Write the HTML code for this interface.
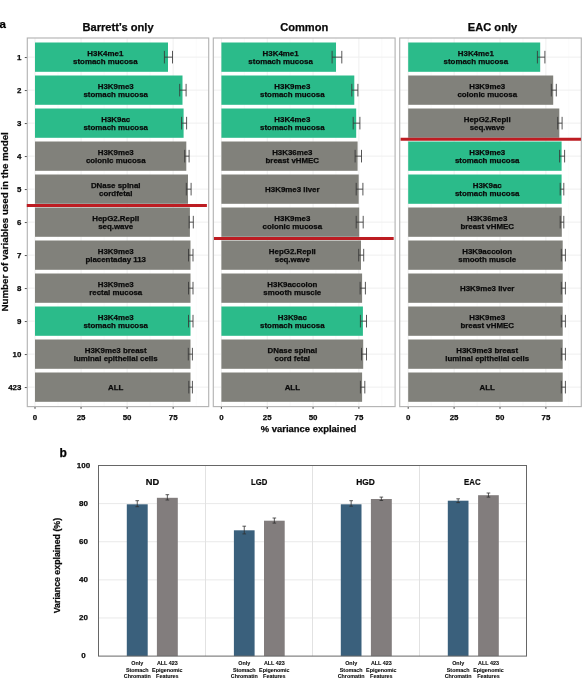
<!DOCTYPE html>
<html><head><meta charset="utf-8"><title>Figure</title>
<style>
html,body{margin:0;padding:0;background:#fff;}
svg{display:block;}
svg text{font-family:"Liberation Sans",Arial,Helvetica,sans-serif;}
</style></head><body>
<svg width="582" height="685" viewBox="0 0 582 685">
<rect x="0" y="0" width="582" height="685" fill="#ffffff"/>
<rect x="27.30" y="38.00" width="181.40" height="368.60" fill="#ffffff" />
<line x1="58.03" y1="38.00" x2="58.03" y2="406.60" stroke="#f6f6f6" stroke-width="0.6" />
<line x1="104.08" y1="38.00" x2="104.08" y2="406.60" stroke="#f6f6f6" stroke-width="0.6" />
<line x1="150.12" y1="38.00" x2="150.12" y2="406.60" stroke="#f6f6f6" stroke-width="0.6" />
<line x1="196.18" y1="38.00" x2="196.18" y2="406.60" stroke="#f6f6f6" stroke-width="0.6" />
<line x1="35.00" y1="38.00" x2="35.00" y2="406.60" stroke="#efefef" stroke-width="1" />
<line x1="81.05" y1="38.00" x2="81.05" y2="406.60" stroke="#efefef" stroke-width="1" />
<line x1="127.10" y1="38.00" x2="127.10" y2="406.60" stroke="#efefef" stroke-width="1" />
<line x1="173.15" y1="38.00" x2="173.15" y2="406.60" stroke="#efefef" stroke-width="1" />
<line x1="27.30" y1="57.15" x2="208.70" y2="57.15" stroke="#efefef" stroke-width="1" />
<line x1="27.30" y1="90.15" x2="208.70" y2="90.15" stroke="#efefef" stroke-width="1" />
<line x1="27.30" y1="123.15" x2="208.70" y2="123.15" stroke="#efefef" stroke-width="1" />
<line x1="27.30" y1="156.15" x2="208.70" y2="156.15" stroke="#efefef" stroke-width="1" />
<line x1="27.30" y1="189.15" x2="208.70" y2="189.15" stroke="#efefef" stroke-width="1" />
<line x1="27.30" y1="222.15" x2="208.70" y2="222.15" stroke="#efefef" stroke-width="1" />
<line x1="27.30" y1="255.15" x2="208.70" y2="255.15" stroke="#efefef" stroke-width="1" />
<line x1="27.30" y1="288.15" x2="208.70" y2="288.15" stroke="#efefef" stroke-width="1" />
<line x1="27.30" y1="321.15" x2="208.70" y2="321.15" stroke="#efefef" stroke-width="1" />
<line x1="27.30" y1="354.15" x2="208.70" y2="354.15" stroke="#efefef" stroke-width="1" />
<line x1="27.30" y1="387.15" x2="208.70" y2="387.15" stroke="#efefef" stroke-width="1" />
<rect x="35.00" y="42.50" width="133.00" height="29.30" fill="#2bbb8a" />
<rect x="35.00" y="75.50" width="147.50" height="29.30" fill="#2bbb8a" />
<rect x="35.00" y="108.50" width="148.60" height="29.30" fill="#2bbb8a" />
<rect x="35.00" y="141.50" width="151.30" height="29.30" fill="#81817b" />
<rect x="35.00" y="174.50" width="153.00" height="29.30" fill="#81817b" />
<rect x="35.00" y="207.50" width="154.90" height="29.30" fill="#81817b" />
<rect x="35.00" y="240.50" width="155.50" height="29.30" fill="#81817b" />
<rect x="35.00" y="273.50" width="155.50" height="29.30" fill="#81817b" />
<rect x="35.00" y="306.50" width="155.50" height="29.30" fill="#2bbb8a" />
<rect x="35.00" y="339.50" width="155.50" height="29.30" fill="#81817b" />
<rect x="35.00" y="372.50" width="155.50" height="29.30" fill="#81817b" />
<line x1="164.40" y1="57.15" x2="172.50" y2="57.15" stroke="#383838" stroke-width="0.85" />
<line x1="164.40" y1="50.85" x2="164.40" y2="63.45" stroke="#383838" stroke-width="0.85" />
<line x1="172.50" y1="50.85" x2="172.50" y2="63.45" stroke="#383838" stroke-width="0.85" />
<line x1="179.70" y1="90.15" x2="186.10" y2="90.15" stroke="#383838" stroke-width="0.85" />
<line x1="179.70" y1="83.85" x2="179.70" y2="96.45" stroke="#383838" stroke-width="0.85" />
<line x1="186.10" y1="83.85" x2="186.10" y2="96.45" stroke="#383838" stroke-width="0.85" />
<line x1="181.60" y1="123.15" x2="186.60" y2="123.15" stroke="#383838" stroke-width="0.85" />
<line x1="181.60" y1="116.85" x2="181.60" y2="129.45" stroke="#383838" stroke-width="0.85" />
<line x1="186.60" y1="116.85" x2="186.60" y2="129.45" stroke="#383838" stroke-width="0.85" />
<line x1="184.70" y1="156.15" x2="189.10" y2="156.15" stroke="#383838" stroke-width="0.85" />
<line x1="184.70" y1="149.85" x2="184.70" y2="162.45" stroke="#383838" stroke-width="0.85" />
<line x1="189.10" y1="149.85" x2="189.10" y2="162.45" stroke="#383838" stroke-width="0.85" />
<line x1="186.30" y1="189.15" x2="191.10" y2="189.15" stroke="#383838" stroke-width="0.85" />
<line x1="186.30" y1="182.85" x2="186.30" y2="195.45" stroke="#383838" stroke-width="0.85" />
<line x1="191.10" y1="182.85" x2="191.10" y2="195.45" stroke="#383838" stroke-width="0.85" />
<line x1="189.10" y1="222.15" x2="193.30" y2="222.15" stroke="#383838" stroke-width="0.85" />
<line x1="189.10" y1="215.85" x2="189.10" y2="228.45" stroke="#383838" stroke-width="0.85" />
<line x1="193.30" y1="215.85" x2="193.30" y2="228.45" stroke="#383838" stroke-width="0.85" />
<line x1="188.50" y1="255.15" x2="193.00" y2="255.15" stroke="#383838" stroke-width="0.85" />
<line x1="188.50" y1="248.85" x2="188.50" y2="261.45" stroke="#383838" stroke-width="0.85" />
<line x1="193.00" y1="248.85" x2="193.00" y2="261.45" stroke="#383838" stroke-width="0.85" />
<line x1="188.50" y1="288.15" x2="193.00" y2="288.15" stroke="#383838" stroke-width="0.85" />
<line x1="188.50" y1="281.85" x2="188.50" y2="294.45" stroke="#383838" stroke-width="0.85" />
<line x1="193.00" y1="281.85" x2="193.00" y2="294.45" stroke="#383838" stroke-width="0.85" />
<line x1="188.50" y1="321.15" x2="193.00" y2="321.15" stroke="#383838" stroke-width="0.85" />
<line x1="188.50" y1="314.85" x2="188.50" y2="327.45" stroke="#383838" stroke-width="0.85" />
<line x1="193.00" y1="314.85" x2="193.00" y2="327.45" stroke="#383838" stroke-width="0.85" />
<line x1="188.30" y1="354.15" x2="192.40" y2="354.15" stroke="#383838" stroke-width="0.85" />
<line x1="188.30" y1="347.85" x2="188.30" y2="360.45" stroke="#383838" stroke-width="0.85" />
<line x1="192.40" y1="347.85" x2="192.40" y2="360.45" stroke="#383838" stroke-width="0.85" />
<line x1="188.80" y1="387.15" x2="192.40" y2="387.15" stroke="#383838" stroke-width="0.85" />
<line x1="188.80" y1="380.85" x2="188.80" y2="393.45" stroke="#383838" stroke-width="0.85" />
<line x1="192.40" y1="380.85" x2="192.40" y2="393.45" stroke="#383838" stroke-width="0.85" />
<text transform="translate(105.30 55.85)" font-size="7.9" text-anchor="middle" fill="#0a0a0a" stroke="#0a0a0a" stroke-width="0.25" font-weight="bold">H3K4me1</text>
<text transform="translate(105.30 64.35)" font-size="7.9" text-anchor="middle" fill="#0a0a0a" stroke="#0a0a0a" stroke-width="0.25" font-weight="bold">stomach mucosa</text>
<text transform="translate(115.70 88.85)" font-size="7.9" text-anchor="middle" fill="#0a0a0a" stroke="#0a0a0a" stroke-width="0.25" font-weight="bold">H3K9me3</text>
<text transform="translate(115.70 97.35)" font-size="7.9" text-anchor="middle" fill="#0a0a0a" stroke="#0a0a0a" stroke-width="0.25" font-weight="bold">stomach mucosa</text>
<text transform="translate(115.70 121.85)" font-size="7.9" text-anchor="middle" fill="#0a0a0a" stroke="#0a0a0a" stroke-width="0.25" font-weight="bold">H3K9ac</text>
<text transform="translate(115.70 130.35)" font-size="7.9" text-anchor="middle" fill="#0a0a0a" stroke="#0a0a0a" stroke-width="0.25" font-weight="bold">stomach mucosa</text>
<text transform="translate(115.70 154.85)" font-size="7.9" text-anchor="middle" fill="#0a0a0a" stroke="#0a0a0a" stroke-width="0.25" font-weight="bold">H3K9me3</text>
<text transform="translate(115.70 163.35)" font-size="7.9" text-anchor="middle" fill="#0a0a0a" stroke="#0a0a0a" stroke-width="0.25" font-weight="bold">colonic mucosa</text>
<text transform="translate(115.70 187.85)" font-size="7.9" text-anchor="middle" fill="#0a0a0a" stroke="#0a0a0a" stroke-width="0.25" font-weight="bold">DNase spinal</text>
<text transform="translate(115.70 196.35)" font-size="7.9" text-anchor="middle" fill="#0a0a0a" stroke="#0a0a0a" stroke-width="0.25" font-weight="bold">cordfetal</text>
<text transform="translate(115.70 220.85)" font-size="7.9" text-anchor="middle" fill="#0a0a0a" stroke="#0a0a0a" stroke-width="0.25" font-weight="bold">HepG2.Repli</text>
<text transform="translate(115.70 229.35)" font-size="7.9" text-anchor="middle" fill="#0a0a0a" stroke="#0a0a0a" stroke-width="0.25" font-weight="bold">seq.wave</text>
<text transform="translate(115.70 253.85)" font-size="7.9" text-anchor="middle" fill="#0a0a0a" stroke="#0a0a0a" stroke-width="0.25" font-weight="bold">H3K9me3</text>
<text transform="translate(115.70 262.35)" font-size="7.9" text-anchor="middle" fill="#0a0a0a" stroke="#0a0a0a" stroke-width="0.25" font-weight="bold">placentaday 113</text>
<text transform="translate(115.70 286.85)" font-size="7.9" text-anchor="middle" fill="#0a0a0a" stroke="#0a0a0a" stroke-width="0.25" font-weight="bold">H3K9me3</text>
<text transform="translate(115.70 295.35)" font-size="7.9" text-anchor="middle" fill="#0a0a0a" stroke="#0a0a0a" stroke-width="0.25" font-weight="bold">rectal mucosa</text>
<text transform="translate(115.70 319.85)" font-size="7.9" text-anchor="middle" fill="#0a0a0a" stroke="#0a0a0a" stroke-width="0.25" font-weight="bold">H3K4me3</text>
<text transform="translate(115.70 328.35)" font-size="7.9" text-anchor="middle" fill="#0a0a0a" stroke="#0a0a0a" stroke-width="0.25" font-weight="bold">stomach mucosa</text>
<text transform="translate(115.70 352.85)" font-size="7.9" text-anchor="middle" fill="#0a0a0a" stroke="#0a0a0a" stroke-width="0.25" font-weight="bold">H3K9me3 breast</text>
<text transform="translate(115.70 361.35)" font-size="7.9" text-anchor="middle" fill="#0a0a0a" stroke="#0a0a0a" stroke-width="0.25" font-weight="bold">luminal epithelial cells</text>
<text transform="translate(115.70 389.65)" font-size="7.9" text-anchor="middle" fill="#0a0a0a" stroke="#0a0a0a" stroke-width="0.25" font-weight="bold">ALL</text>
<rect x="27.30" y="38.00" width="181.40" height="368.60" fill="none" stroke="#b4b4b4" stroke-width="1.15"/>
<line x1="26.80" y1="205.40" x2="206.90" y2="205.40" stroke="#bd1c22" stroke-width="3.0" />
<line x1="35.00" y1="407.00" x2="35.00" y2="408.80" stroke="#484848" stroke-width="1" />
<text transform="translate(35.00 419.90)" font-size="7.9" text-anchor="middle" fill="#0a0a0a" stroke="#0a0a0a" stroke-width="0.25" font-weight="bold">0</text>
<line x1="81.05" y1="407.00" x2="81.05" y2="408.80" stroke="#484848" stroke-width="1" />
<text transform="translate(81.05 419.90)" font-size="7.9" text-anchor="middle" fill="#0a0a0a" stroke="#0a0a0a" stroke-width="0.25" font-weight="bold">25</text>
<line x1="127.10" y1="407.00" x2="127.10" y2="408.80" stroke="#484848" stroke-width="1" />
<text transform="translate(127.10 419.90)" font-size="7.9" text-anchor="middle" fill="#0a0a0a" stroke="#0a0a0a" stroke-width="0.25" font-weight="bold">50</text>
<line x1="173.15" y1="407.00" x2="173.15" y2="408.80" stroke="#484848" stroke-width="1" />
<text transform="translate(173.15 419.90)" font-size="7.9" text-anchor="middle" fill="#0a0a0a" stroke="#0a0a0a" stroke-width="0.25" font-weight="bold">75</text>
<text transform="translate(118.00 30.50)" font-size="11.1" text-anchor="middle" fill="#0a0a0a" stroke="#0a0a0a" stroke-width="0.25" font-weight="bold">Barrett’s only</text>
<rect x="213.30" y="38.00" width="181.80" height="368.60" fill="#ffffff" />
<line x1="244.31" y1="38.00" x2="244.31" y2="406.60" stroke="#f6f6f6" stroke-width="0.6" />
<line x1="290.14" y1="38.00" x2="290.14" y2="406.60" stroke="#f6f6f6" stroke-width="0.6" />
<line x1="335.96" y1="38.00" x2="335.96" y2="406.60" stroke="#f6f6f6" stroke-width="0.6" />
<line x1="381.79" y1="38.00" x2="381.79" y2="406.60" stroke="#f6f6f6" stroke-width="0.6" />
<line x1="221.40" y1="38.00" x2="221.40" y2="406.60" stroke="#efefef" stroke-width="1" />
<line x1="267.23" y1="38.00" x2="267.23" y2="406.60" stroke="#efefef" stroke-width="1" />
<line x1="313.05" y1="38.00" x2="313.05" y2="406.60" stroke="#efefef" stroke-width="1" />
<line x1="358.88" y1="38.00" x2="358.88" y2="406.60" stroke="#efefef" stroke-width="1" />
<line x1="213.30" y1="57.15" x2="395.10" y2="57.15" stroke="#efefef" stroke-width="1" />
<line x1="213.30" y1="90.15" x2="395.10" y2="90.15" stroke="#efefef" stroke-width="1" />
<line x1="213.30" y1="123.15" x2="395.10" y2="123.15" stroke="#efefef" stroke-width="1" />
<line x1="213.30" y1="156.15" x2="395.10" y2="156.15" stroke="#efefef" stroke-width="1" />
<line x1="213.30" y1="189.15" x2="395.10" y2="189.15" stroke="#efefef" stroke-width="1" />
<line x1="213.30" y1="222.15" x2="395.10" y2="222.15" stroke="#efefef" stroke-width="1" />
<line x1="213.30" y1="255.15" x2="395.10" y2="255.15" stroke="#efefef" stroke-width="1" />
<line x1="213.30" y1="288.15" x2="395.10" y2="288.15" stroke="#efefef" stroke-width="1" />
<line x1="213.30" y1="321.15" x2="395.10" y2="321.15" stroke="#efefef" stroke-width="1" />
<line x1="213.30" y1="354.15" x2="395.10" y2="354.15" stroke="#efefef" stroke-width="1" />
<line x1="213.30" y1="387.15" x2="395.10" y2="387.15" stroke="#efefef" stroke-width="1" />
<rect x="221.40" y="42.50" width="114.60" height="29.30" fill="#2bbb8a" />
<rect x="221.40" y="75.50" width="132.90" height="29.30" fill="#2bbb8a" />
<rect x="221.40" y="108.50" width="134.80" height="29.30" fill="#2bbb8a" />
<rect x="221.40" y="141.50" width="136.20" height="29.30" fill="#81817b" />
<rect x="221.40" y="174.50" width="137.30" height="29.30" fill="#81817b" />
<rect x="221.40" y="207.50" width="137.80" height="29.30" fill="#81817b" />
<rect x="221.40" y="240.50" width="139.60" height="29.30" fill="#81817b" />
<rect x="221.40" y="273.50" width="140.70" height="29.30" fill="#81817b" />
<rect x="221.40" y="306.50" width="141.50" height="29.30" fill="#2bbb8a" />
<rect x="221.40" y="339.50" width="141.80" height="29.30" fill="#81817b" />
<rect x="221.40" y="372.50" width="140.70" height="29.30" fill="#81817b" />
<line x1="332.10" y1="57.15" x2="341.80" y2="57.15" stroke="#383838" stroke-width="0.85" />
<line x1="332.10" y1="50.85" x2="332.10" y2="63.45" stroke="#383838" stroke-width="0.85" />
<line x1="341.80" y1="50.85" x2="341.80" y2="63.45" stroke="#383838" stroke-width="0.85" />
<line x1="351.80" y1="90.15" x2="357.90" y2="90.15" stroke="#383838" stroke-width="0.85" />
<line x1="351.80" y1="83.85" x2="351.80" y2="96.45" stroke="#383838" stroke-width="0.85" />
<line x1="357.90" y1="83.85" x2="357.90" y2="96.45" stroke="#383838" stroke-width="0.85" />
<line x1="353.20" y1="123.15" x2="359.90" y2="123.15" stroke="#383838" stroke-width="0.85" />
<line x1="353.20" y1="116.85" x2="353.20" y2="129.45" stroke="#383838" stroke-width="0.85" />
<line x1="359.90" y1="116.85" x2="359.90" y2="129.45" stroke="#383838" stroke-width="0.85" />
<line x1="355.10" y1="156.15" x2="361.50" y2="156.15" stroke="#383838" stroke-width="0.85" />
<line x1="355.10" y1="149.85" x2="355.10" y2="162.45" stroke="#383838" stroke-width="0.85" />
<line x1="361.50" y1="149.85" x2="361.50" y2="162.45" stroke="#383838" stroke-width="0.85" />
<line x1="356.20" y1="189.15" x2="362.90" y2="189.15" stroke="#383838" stroke-width="0.85" />
<line x1="356.20" y1="182.85" x2="356.20" y2="195.45" stroke="#383838" stroke-width="0.85" />
<line x1="362.90" y1="182.85" x2="362.90" y2="195.45" stroke="#383838" stroke-width="0.85" />
<line x1="356.20" y1="222.15" x2="363.20" y2="222.15" stroke="#383838" stroke-width="0.85" />
<line x1="356.20" y1="215.85" x2="356.20" y2="228.45" stroke="#383838" stroke-width="0.85" />
<line x1="363.20" y1="215.85" x2="363.20" y2="228.45" stroke="#383838" stroke-width="0.85" />
<line x1="358.70" y1="255.15" x2="363.70" y2="255.15" stroke="#383838" stroke-width="0.85" />
<line x1="358.70" y1="248.85" x2="358.70" y2="261.45" stroke="#383838" stroke-width="0.85" />
<line x1="363.70" y1="248.85" x2="363.70" y2="261.45" stroke="#383838" stroke-width="0.85" />
<line x1="360.10" y1="288.15" x2="365.40" y2="288.15" stroke="#383838" stroke-width="0.85" />
<line x1="360.10" y1="281.85" x2="360.10" y2="294.45" stroke="#383838" stroke-width="0.85" />
<line x1="365.40" y1="281.85" x2="365.40" y2="294.45" stroke="#383838" stroke-width="0.85" />
<line x1="360.40" y1="321.15" x2="366.50" y2="321.15" stroke="#383838" stroke-width="0.85" />
<line x1="360.40" y1="314.85" x2="360.40" y2="327.45" stroke="#383838" stroke-width="0.85" />
<line x1="366.50" y1="314.85" x2="366.50" y2="327.45" stroke="#383838" stroke-width="0.85" />
<line x1="361.50" y1="354.15" x2="366.50" y2="354.15" stroke="#383838" stroke-width="0.85" />
<line x1="361.50" y1="347.85" x2="361.50" y2="360.45" stroke="#383838" stroke-width="0.85" />
<line x1="366.50" y1="347.85" x2="366.50" y2="360.45" stroke="#383838" stroke-width="0.85" />
<line x1="360.40" y1="387.15" x2="364.80" y2="387.15" stroke="#383838" stroke-width="0.85" />
<line x1="360.40" y1="380.85" x2="360.40" y2="393.45" stroke="#383838" stroke-width="0.85" />
<line x1="364.80" y1="380.85" x2="364.80" y2="393.45" stroke="#383838" stroke-width="0.85" />
<text transform="translate(280.60 55.85)" font-size="7.9" text-anchor="middle" fill="#0a0a0a" stroke="#0a0a0a" stroke-width="0.25" font-weight="bold">H3K4me1</text>
<text transform="translate(280.60 64.35)" font-size="7.9" text-anchor="middle" fill="#0a0a0a" stroke="#0a0a0a" stroke-width="0.25" font-weight="bold">stomach mucosa</text>
<text transform="translate(292.30 88.85)" font-size="7.9" text-anchor="middle" fill="#0a0a0a" stroke="#0a0a0a" stroke-width="0.25" font-weight="bold">H3K9me3</text>
<text transform="translate(292.30 97.35)" font-size="7.9" text-anchor="middle" fill="#0a0a0a" stroke="#0a0a0a" stroke-width="0.25" font-weight="bold">stomach mucosa</text>
<text transform="translate(292.30 121.85)" font-size="7.9" text-anchor="middle" fill="#0a0a0a" stroke="#0a0a0a" stroke-width="0.25" font-weight="bold">H3K4me3</text>
<text transform="translate(292.30 130.35)" font-size="7.9" text-anchor="middle" fill="#0a0a0a" stroke="#0a0a0a" stroke-width="0.25" font-weight="bold">stomach mucosa</text>
<text transform="translate(292.30 154.85)" font-size="7.9" text-anchor="middle" fill="#0a0a0a" stroke="#0a0a0a" stroke-width="0.25" font-weight="bold">H3K36me3</text>
<text transform="translate(292.30 163.35)" font-size="7.9" text-anchor="middle" fill="#0a0a0a" stroke="#0a0a0a" stroke-width="0.25" font-weight="bold">breast vHMEC</text>
<text transform="translate(292.30 191.65)" font-size="7.9" text-anchor="middle" fill="#0a0a0a" stroke="#0a0a0a" stroke-width="0.25" font-weight="bold">H3K9me3 liver</text>
<text transform="translate(292.30 220.85)" font-size="7.9" text-anchor="middle" fill="#0a0a0a" stroke="#0a0a0a" stroke-width="0.25" font-weight="bold">H3K9me3</text>
<text transform="translate(292.30 229.35)" font-size="7.9" text-anchor="middle" fill="#0a0a0a" stroke="#0a0a0a" stroke-width="0.25" font-weight="bold">colonic mucosa</text>
<text transform="translate(292.30 253.85)" font-size="7.9" text-anchor="middle" fill="#0a0a0a" stroke="#0a0a0a" stroke-width="0.25" font-weight="bold">HepG2.Repli</text>
<text transform="translate(292.30 262.35)" font-size="7.9" text-anchor="middle" fill="#0a0a0a" stroke="#0a0a0a" stroke-width="0.25" font-weight="bold">seq.wave</text>
<text transform="translate(292.30 286.85)" font-size="7.9" text-anchor="middle" fill="#0a0a0a" stroke="#0a0a0a" stroke-width="0.25" font-weight="bold">H3K9accolon</text>
<text transform="translate(292.30 295.35)" font-size="7.9" text-anchor="middle" fill="#0a0a0a" stroke="#0a0a0a" stroke-width="0.25" font-weight="bold">smooth muscle</text>
<text transform="translate(292.30 319.85)" font-size="7.9" text-anchor="middle" fill="#0a0a0a" stroke="#0a0a0a" stroke-width="0.25" font-weight="bold">H3K9ac</text>
<text transform="translate(292.30 328.35)" font-size="7.9" text-anchor="middle" fill="#0a0a0a" stroke="#0a0a0a" stroke-width="0.25" font-weight="bold">stomach mucosa</text>
<text transform="translate(292.30 352.85)" font-size="7.9" text-anchor="middle" fill="#0a0a0a" stroke="#0a0a0a" stroke-width="0.25" font-weight="bold">DNase spinal</text>
<text transform="translate(292.30 361.35)" font-size="7.9" text-anchor="middle" fill="#0a0a0a" stroke="#0a0a0a" stroke-width="0.25" font-weight="bold">cord fetal</text>
<text transform="translate(292.30 389.65)" font-size="7.9" text-anchor="middle" fill="#0a0a0a" stroke="#0a0a0a" stroke-width="0.25" font-weight="bold">ALL</text>
<rect x="213.30" y="38.00" width="181.80" height="368.60" fill="none" stroke="#b4b4b4" stroke-width="1.15"/>
<line x1="214.00" y1="238.40" x2="393.70" y2="238.40" stroke="#bd1c22" stroke-width="3.0" />
<line x1="221.40" y1="407.00" x2="221.40" y2="408.80" stroke="#484848" stroke-width="1" />
<text transform="translate(221.40 419.90)" font-size="7.9" text-anchor="middle" fill="#0a0a0a" stroke="#0a0a0a" stroke-width="0.25" font-weight="bold">0</text>
<line x1="267.23" y1="407.00" x2="267.23" y2="408.80" stroke="#484848" stroke-width="1" />
<text transform="translate(267.23 419.90)" font-size="7.9" text-anchor="middle" fill="#0a0a0a" stroke="#0a0a0a" stroke-width="0.25" font-weight="bold">25</text>
<line x1="313.05" y1="407.00" x2="313.05" y2="408.80" stroke="#484848" stroke-width="1" />
<text transform="translate(313.05 419.90)" font-size="7.9" text-anchor="middle" fill="#0a0a0a" stroke="#0a0a0a" stroke-width="0.25" font-weight="bold">50</text>
<line x1="358.88" y1="407.00" x2="358.88" y2="408.80" stroke="#484848" stroke-width="1" />
<text transform="translate(358.88 419.90)" font-size="7.9" text-anchor="middle" fill="#0a0a0a" stroke="#0a0a0a" stroke-width="0.25" font-weight="bold">75</text>
<text transform="translate(304.20 30.50)" font-size="11.1" text-anchor="middle" fill="#0a0a0a" stroke="#0a0a0a" stroke-width="0.25" font-weight="bold">Common</text>
<rect x="399.70" y="38.00" width="181.60" height="368.60" fill="#ffffff" />
<line x1="431.15" y1="38.00" x2="431.15" y2="406.60" stroke="#f6f6f6" stroke-width="0.6" />
<line x1="477.05" y1="38.00" x2="477.05" y2="406.60" stroke="#f6f6f6" stroke-width="0.6" />
<line x1="522.95" y1="38.00" x2="522.95" y2="406.60" stroke="#f6f6f6" stroke-width="0.6" />
<line x1="568.85" y1="38.00" x2="568.85" y2="406.60" stroke="#f6f6f6" stroke-width="0.6" />
<line x1="408.20" y1="38.00" x2="408.20" y2="406.60" stroke="#efefef" stroke-width="1" />
<line x1="454.10" y1="38.00" x2="454.10" y2="406.60" stroke="#efefef" stroke-width="1" />
<line x1="500.00" y1="38.00" x2="500.00" y2="406.60" stroke="#efefef" stroke-width="1" />
<line x1="545.90" y1="38.00" x2="545.90" y2="406.60" stroke="#efefef" stroke-width="1" />
<line x1="399.70" y1="57.15" x2="581.30" y2="57.15" stroke="#efefef" stroke-width="1" />
<line x1="399.70" y1="90.15" x2="581.30" y2="90.15" stroke="#efefef" stroke-width="1" />
<line x1="399.70" y1="123.15" x2="581.30" y2="123.15" stroke="#efefef" stroke-width="1" />
<line x1="399.70" y1="156.15" x2="581.30" y2="156.15" stroke="#efefef" stroke-width="1" />
<line x1="399.70" y1="189.15" x2="581.30" y2="189.15" stroke="#efefef" stroke-width="1" />
<line x1="399.70" y1="222.15" x2="581.30" y2="222.15" stroke="#efefef" stroke-width="1" />
<line x1="399.70" y1="255.15" x2="581.30" y2="255.15" stroke="#efefef" stroke-width="1" />
<line x1="399.70" y1="288.15" x2="581.30" y2="288.15" stroke="#efefef" stroke-width="1" />
<line x1="399.70" y1="321.15" x2="581.30" y2="321.15" stroke="#efefef" stroke-width="1" />
<line x1="399.70" y1="354.15" x2="581.30" y2="354.15" stroke="#efefef" stroke-width="1" />
<line x1="399.70" y1="387.15" x2="581.30" y2="387.15" stroke="#efefef" stroke-width="1" />
<rect x="408.20" y="42.50" width="132.00" height="29.30" fill="#2bbb8a" />
<rect x="408.20" y="75.50" width="145.00" height="29.30" fill="#81817b" />
<rect x="408.20" y="108.50" width="151.10" height="29.30" fill="#81817b" />
<rect x="408.20" y="141.50" width="153.40" height="29.30" fill="#2bbb8a" />
<rect x="408.20" y="174.50" width="153.40" height="29.30" fill="#2bbb8a" />
<rect x="408.20" y="207.50" width="153.60" height="29.30" fill="#81817b" />
<rect x="408.20" y="240.50" width="154.50" height="29.30" fill="#81817b" />
<rect x="408.20" y="273.50" width="154.50" height="29.30" fill="#81817b" />
<rect x="408.20" y="306.50" width="154.50" height="29.30" fill="#81817b" />
<rect x="408.20" y="339.50" width="154.50" height="29.30" fill="#81817b" />
<rect x="408.20" y="372.50" width="154.50" height="29.30" fill="#81817b" />
<line x1="537.40" y1="57.15" x2="544.90" y2="57.15" stroke="#383838" stroke-width="0.85" />
<line x1="537.40" y1="50.85" x2="537.40" y2="63.45" stroke="#383838" stroke-width="0.85" />
<line x1="544.90" y1="50.85" x2="544.90" y2="63.45" stroke="#383838" stroke-width="0.85" />
<line x1="551.30" y1="90.15" x2="556.30" y2="90.15" stroke="#383838" stroke-width="0.85" />
<line x1="551.30" y1="83.85" x2="551.30" y2="96.45" stroke="#383838" stroke-width="0.85" />
<line x1="556.30" y1="83.85" x2="556.30" y2="96.45" stroke="#383838" stroke-width="0.85" />
<line x1="557.70" y1="123.15" x2="562.10" y2="123.15" stroke="#383838" stroke-width="0.85" />
<line x1="557.70" y1="116.85" x2="557.70" y2="129.45" stroke="#383838" stroke-width="0.85" />
<line x1="562.10" y1="116.85" x2="562.10" y2="129.45" stroke="#383838" stroke-width="0.85" />
<line x1="559.60" y1="156.15" x2="564.60" y2="156.15" stroke="#383838" stroke-width="0.85" />
<line x1="559.60" y1="149.85" x2="559.60" y2="162.45" stroke="#383838" stroke-width="0.85" />
<line x1="564.60" y1="149.85" x2="564.60" y2="162.45" stroke="#383838" stroke-width="0.85" />
<line x1="560.20" y1="189.15" x2="563.80" y2="189.15" stroke="#383838" stroke-width="0.85" />
<line x1="560.20" y1="182.85" x2="560.20" y2="195.45" stroke="#383838" stroke-width="0.85" />
<line x1="563.80" y1="182.85" x2="563.80" y2="195.45" stroke="#383838" stroke-width="0.85" />
<line x1="560.20" y1="222.15" x2="563.80" y2="222.15" stroke="#383838" stroke-width="0.85" />
<line x1="560.20" y1="215.85" x2="560.20" y2="228.45" stroke="#383838" stroke-width="0.85" />
<line x1="563.80" y1="215.85" x2="563.80" y2="228.45" stroke="#383838" stroke-width="0.85" />
<line x1="561.30" y1="255.15" x2="565.40" y2="255.15" stroke="#383838" stroke-width="0.85" />
<line x1="561.30" y1="248.85" x2="561.30" y2="261.45" stroke="#383838" stroke-width="0.85" />
<line x1="565.40" y1="248.85" x2="565.40" y2="261.45" stroke="#383838" stroke-width="0.85" />
<line x1="561.30" y1="288.15" x2="565.40" y2="288.15" stroke="#383838" stroke-width="0.85" />
<line x1="561.30" y1="281.85" x2="561.30" y2="294.45" stroke="#383838" stroke-width="0.85" />
<line x1="565.40" y1="281.85" x2="565.40" y2="294.45" stroke="#383838" stroke-width="0.85" />
<line x1="561.30" y1="321.15" x2="565.40" y2="321.15" stroke="#383838" stroke-width="0.85" />
<line x1="561.30" y1="314.85" x2="561.30" y2="327.45" stroke="#383838" stroke-width="0.85" />
<line x1="565.40" y1="314.85" x2="565.40" y2="327.45" stroke="#383838" stroke-width="0.85" />
<line x1="561.30" y1="354.15" x2="565.40" y2="354.15" stroke="#383838" stroke-width="0.85" />
<line x1="561.30" y1="347.85" x2="561.30" y2="360.45" stroke="#383838" stroke-width="0.85" />
<line x1="565.40" y1="347.85" x2="565.40" y2="360.45" stroke="#383838" stroke-width="0.85" />
<line x1="561.30" y1="387.15" x2="565.40" y2="387.15" stroke="#383838" stroke-width="0.85" />
<line x1="561.30" y1="380.85" x2="561.30" y2="393.45" stroke="#383838" stroke-width="0.85" />
<line x1="565.40" y1="380.85" x2="565.40" y2="393.45" stroke="#383838" stroke-width="0.85" />
<text transform="translate(475.80 55.85)" font-size="7.9" text-anchor="middle" fill="#0a0a0a" stroke="#0a0a0a" stroke-width="0.25" font-weight="bold">H3K4me1</text>
<text transform="translate(475.80 64.35)" font-size="7.9" text-anchor="middle" fill="#0a0a0a" stroke="#0a0a0a" stroke-width="0.25" font-weight="bold">stomach mucosa</text>
<text transform="translate(487.20 88.85)" font-size="7.9" text-anchor="middle" fill="#0a0a0a" stroke="#0a0a0a" stroke-width="0.25" font-weight="bold">H3K9me3</text>
<text transform="translate(487.20 97.35)" font-size="7.9" text-anchor="middle" fill="#0a0a0a" stroke="#0a0a0a" stroke-width="0.25" font-weight="bold">colonic mucosa</text>
<text transform="translate(487.20 121.85)" font-size="7.9" text-anchor="middle" fill="#0a0a0a" stroke="#0a0a0a" stroke-width="0.25" font-weight="bold">HepG2.Repli</text>
<text transform="translate(487.20 130.35)" font-size="7.9" text-anchor="middle" fill="#0a0a0a" stroke="#0a0a0a" stroke-width="0.25" font-weight="bold">seq.wave</text>
<text transform="translate(487.20 154.85)" font-size="7.9" text-anchor="middle" fill="#0a0a0a" stroke="#0a0a0a" stroke-width="0.25" font-weight="bold">H3K9me3</text>
<text transform="translate(487.20 163.35)" font-size="7.9" text-anchor="middle" fill="#0a0a0a" stroke="#0a0a0a" stroke-width="0.25" font-weight="bold">stomach mucosa</text>
<text transform="translate(487.20 187.85)" font-size="7.9" text-anchor="middle" fill="#0a0a0a" stroke="#0a0a0a" stroke-width="0.25" font-weight="bold">H3K9ac</text>
<text transform="translate(487.20 196.35)" font-size="7.9" text-anchor="middle" fill="#0a0a0a" stroke="#0a0a0a" stroke-width="0.25" font-weight="bold">stomach mucosa</text>
<text transform="translate(487.20 220.85)" font-size="7.9" text-anchor="middle" fill="#0a0a0a" stroke="#0a0a0a" stroke-width="0.25" font-weight="bold">H3K36me3</text>
<text transform="translate(487.20 229.35)" font-size="7.9" text-anchor="middle" fill="#0a0a0a" stroke="#0a0a0a" stroke-width="0.25" font-weight="bold">breast vHMEC</text>
<text transform="translate(487.20 253.85)" font-size="7.9" text-anchor="middle" fill="#0a0a0a" stroke="#0a0a0a" stroke-width="0.25" font-weight="bold">H3K9accolon</text>
<text transform="translate(487.20 262.35)" font-size="7.9" text-anchor="middle" fill="#0a0a0a" stroke="#0a0a0a" stroke-width="0.25" font-weight="bold">smooth muscle</text>
<text transform="translate(487.20 290.65)" font-size="7.9" text-anchor="middle" fill="#0a0a0a" stroke="#0a0a0a" stroke-width="0.25" font-weight="bold">H3K9me3 liver</text>
<text transform="translate(487.20 319.85)" font-size="7.9" text-anchor="middle" fill="#0a0a0a" stroke="#0a0a0a" stroke-width="0.25" font-weight="bold">H3K9me3</text>
<text transform="translate(487.20 328.35)" font-size="7.9" text-anchor="middle" fill="#0a0a0a" stroke="#0a0a0a" stroke-width="0.25" font-weight="bold">breast vHMEC</text>
<text transform="translate(487.20 352.85)" font-size="7.9" text-anchor="middle" fill="#0a0a0a" stroke="#0a0a0a" stroke-width="0.25" font-weight="bold">H3K9me3 breast</text>
<text transform="translate(487.20 361.35)" font-size="7.9" text-anchor="middle" fill="#0a0a0a" stroke="#0a0a0a" stroke-width="0.25" font-weight="bold">luminal epithelial cells</text>
<text transform="translate(487.20 389.65)" font-size="7.9" text-anchor="middle" fill="#0a0a0a" stroke="#0a0a0a" stroke-width="0.25" font-weight="bold">ALL</text>
<rect x="399.70" y="38.00" width="181.60" height="368.60" fill="none" stroke="#b4b4b4" stroke-width="1.15"/>
<line x1="400.60" y1="139.30" x2="581.00" y2="139.30" stroke="#bd1c22" stroke-width="3.0" />
<line x1="408.20" y1="407.00" x2="408.20" y2="408.80" stroke="#484848" stroke-width="1" />
<text transform="translate(408.20 419.90)" font-size="7.9" text-anchor="middle" fill="#0a0a0a" stroke="#0a0a0a" stroke-width="0.25" font-weight="bold">0</text>
<line x1="454.10" y1="407.00" x2="454.10" y2="408.80" stroke="#484848" stroke-width="1" />
<text transform="translate(454.10 419.90)" font-size="7.9" text-anchor="middle" fill="#0a0a0a" stroke="#0a0a0a" stroke-width="0.25" font-weight="bold">25</text>
<line x1="500.00" y1="407.00" x2="500.00" y2="408.80" stroke="#484848" stroke-width="1" />
<text transform="translate(500.00 419.90)" font-size="7.9" text-anchor="middle" fill="#0a0a0a" stroke="#0a0a0a" stroke-width="0.25" font-weight="bold">50</text>
<line x1="545.90" y1="407.00" x2="545.90" y2="408.80" stroke="#484848" stroke-width="1" />
<text transform="translate(545.90 419.90)" font-size="7.9" text-anchor="middle" fill="#0a0a0a" stroke="#0a0a0a" stroke-width="0.25" font-weight="bold">75</text>
<text transform="translate(492.50 30.50)" font-size="11.1" text-anchor="middle" fill="#0a0a0a" stroke="#0a0a0a" stroke-width="0.25" font-weight="bold">EAC only</text>
<line x1="24.80" y1="57.55" x2="26.80" y2="57.55" stroke="#505050" stroke-width="1" />
<text transform="translate(21.30 60.25)" font-size="7.9" text-anchor="end" fill="#0a0a0a" stroke="#0a0a0a" stroke-width="0.25" font-weight="bold">1</text>
<line x1="24.80" y1="90.55" x2="26.80" y2="90.55" stroke="#505050" stroke-width="1" />
<text transform="translate(21.30 93.25)" font-size="7.9" text-anchor="end" fill="#0a0a0a" stroke="#0a0a0a" stroke-width="0.25" font-weight="bold">2</text>
<line x1="24.80" y1="123.55" x2="26.80" y2="123.55" stroke="#505050" stroke-width="1" />
<text transform="translate(21.30 126.25)" font-size="7.9" text-anchor="end" fill="#0a0a0a" stroke="#0a0a0a" stroke-width="0.25" font-weight="bold">3</text>
<line x1="24.80" y1="156.55" x2="26.80" y2="156.55" stroke="#505050" stroke-width="1" />
<text transform="translate(21.30 159.25)" font-size="7.9" text-anchor="end" fill="#0a0a0a" stroke="#0a0a0a" stroke-width="0.25" font-weight="bold">4</text>
<line x1="24.80" y1="189.55" x2="26.80" y2="189.55" stroke="#505050" stroke-width="1" />
<text transform="translate(21.30 192.25)" font-size="7.9" text-anchor="end" fill="#0a0a0a" stroke="#0a0a0a" stroke-width="0.25" font-weight="bold">5</text>
<line x1="24.80" y1="222.55" x2="26.80" y2="222.55" stroke="#505050" stroke-width="1" />
<text transform="translate(21.30 225.25)" font-size="7.9" text-anchor="end" fill="#0a0a0a" stroke="#0a0a0a" stroke-width="0.25" font-weight="bold">6</text>
<line x1="24.80" y1="255.55" x2="26.80" y2="255.55" stroke="#505050" stroke-width="1" />
<text transform="translate(21.30 258.25)" font-size="7.9" text-anchor="end" fill="#0a0a0a" stroke="#0a0a0a" stroke-width="0.25" font-weight="bold">7</text>
<line x1="24.80" y1="288.55" x2="26.80" y2="288.55" stroke="#505050" stroke-width="1" />
<text transform="translate(21.30 291.25)" font-size="7.9" text-anchor="end" fill="#0a0a0a" stroke="#0a0a0a" stroke-width="0.25" font-weight="bold">8</text>
<line x1="24.80" y1="321.55" x2="26.80" y2="321.55" stroke="#505050" stroke-width="1" />
<text transform="translate(21.30 324.25)" font-size="7.9" text-anchor="end" fill="#0a0a0a" stroke="#0a0a0a" stroke-width="0.25" font-weight="bold">9</text>
<line x1="24.80" y1="354.55" x2="26.80" y2="354.55" stroke="#505050" stroke-width="1" />
<text transform="translate(21.30 357.25)" font-size="7.9" text-anchor="end" fill="#0a0a0a" stroke="#0a0a0a" stroke-width="0.25" font-weight="bold">10</text>
<line x1="24.80" y1="387.55" x2="26.80" y2="387.55" stroke="#505050" stroke-width="1" />
<text transform="translate(21.30 390.25)" font-size="7.9" text-anchor="end" fill="#0a0a0a" stroke="#0a0a0a" stroke-width="0.25" font-weight="bold">423</text>
<text transform="translate(308.50 432.40)" font-size="9.45" text-anchor="middle" fill="#0a0a0a" stroke="#0a0a0a" stroke-width="0.25" font-weight="bold">% variance explained</text>
<text transform="translate(8.30 221.90) rotate(-90)" font-size="9.75" text-anchor="middle" fill="#0a0a0a" stroke="#0a0a0a" stroke-width="0.25" font-weight="bold">Number of variables used in the model</text>
<text transform="translate(-0.60 28.30)" font-size="11.5" text-anchor="start" fill="#000" stroke="#000" stroke-width="0.25" font-weight="bold">a</text>
<rect x="98.50" y="465.50" width="428.00" height="190.60" fill="#ffffff" />
<line x1="98.50" y1="617.98" x2="526.50" y2="617.98" stroke="#e9e9e9" stroke-width="1" />
<line x1="98.50" y1="579.86" x2="526.50" y2="579.86" stroke="#e9e9e9" stroke-width="1" />
<line x1="98.50" y1="541.74" x2="526.50" y2="541.74" stroke="#e9e9e9" stroke-width="1" />
<line x1="98.50" y1="503.62" x2="526.50" y2="503.62" stroke="#e9e9e9" stroke-width="1" />
<line x1="205.50" y1="465.50" x2="205.50" y2="656.10" stroke="#e2e2e2" stroke-width="1" />
<line x1="312.50" y1="465.50" x2="312.50" y2="656.10" stroke="#e2e2e2" stroke-width="1" />
<line x1="419.50" y1="465.50" x2="419.50" y2="656.10" stroke="#e2e2e2" stroke-width="1" />
<rect x="126.80" y="504.30" width="20.90" height="151.80" fill="#3a607c" />
<line x1="137.25" y1="500.70" x2="137.25" y2="506.70" stroke="#303030" stroke-width="0.8" />
<line x1="135.45" y1="500.70" x2="139.05" y2="500.70" stroke="#303030" stroke-width="0.8" />
<line x1="135.45" y1="506.70" x2="139.05" y2="506.70" stroke="#303030" stroke-width="0.8" />
<rect x="156.90" y="497.80" width="20.90" height="158.30" fill="#827d7d" />
<line x1="167.35" y1="494.70" x2="167.35" y2="500.00" stroke="#303030" stroke-width="0.8" />
<line x1="165.55" y1="494.70" x2="169.15" y2="494.70" stroke="#303030" stroke-width="0.8" />
<line x1="165.55" y1="500.00" x2="169.15" y2="500.00" stroke="#303030" stroke-width="0.8" />
<text transform="translate(152.40 484.60) scale(1.12 1)" font-size="8.3" text-anchor="middle" fill="#0a0a0a" stroke="#0a0a0a" stroke-width="0.2" font-weight="bold">ND</text>
<text transform="translate(137.25 664.80)" font-size="5.4" text-anchor="middle" fill="#0a0a0a" stroke="#0a0a0a" stroke-width="0.08" font-weight="bold">Only</text>
<text transform="translate(137.25 671.50)" font-size="5.4" text-anchor="middle" fill="#0a0a0a" stroke="#0a0a0a" stroke-width="0.08" font-weight="bold">Stomach</text>
<text transform="translate(137.25 678.20)" font-size="5.4" text-anchor="middle" fill="#0a0a0a" stroke="#0a0a0a" stroke-width="0.08" font-weight="bold">Chromatin</text>
<text transform="translate(167.35 664.80)" font-size="5.4" text-anchor="middle" fill="#0a0a0a" stroke="#0a0a0a" stroke-width="0.08" font-weight="bold">ALL 423</text>
<text transform="translate(167.35 671.50)" font-size="5.4" text-anchor="middle" fill="#0a0a0a" stroke="#0a0a0a" stroke-width="0.08" font-weight="bold">Epigenomic</text>
<text transform="translate(167.35 678.20)" font-size="5.4" text-anchor="middle" fill="#0a0a0a" stroke="#0a0a0a" stroke-width="0.08" font-weight="bold">Features</text>
<rect x="233.90" y="530.30" width="20.70" height="125.80" fill="#3a607c" />
<line x1="244.25" y1="526.20" x2="244.25" y2="533.90" stroke="#303030" stroke-width="0.8" />
<line x1="242.45" y1="526.20" x2="246.05" y2="526.20" stroke="#303030" stroke-width="0.8" />
<line x1="242.45" y1="533.90" x2="246.05" y2="533.90" stroke="#303030" stroke-width="0.8" />
<rect x="264.00" y="520.70" width="20.70" height="135.40" fill="#827d7d" />
<line x1="274.35" y1="518.00" x2="274.35" y2="523.10" stroke="#303030" stroke-width="0.8" />
<line x1="272.55" y1="518.00" x2="276.15" y2="518.00" stroke="#303030" stroke-width="0.8" />
<line x1="272.55" y1="523.10" x2="276.15" y2="523.10" stroke="#303030" stroke-width="0.8" />
<text transform="translate(259.20 484.60) scale(0.935 1)" font-size="8.3" text-anchor="middle" fill="#0a0a0a" stroke="#0a0a0a" stroke-width="0.2" font-weight="bold">LGD</text>
<text transform="translate(244.25 664.80)" font-size="5.4" text-anchor="middle" fill="#0a0a0a" stroke="#0a0a0a" stroke-width="0.08" font-weight="bold">Only</text>
<text transform="translate(244.25 671.50)" font-size="5.4" text-anchor="middle" fill="#0a0a0a" stroke="#0a0a0a" stroke-width="0.08" font-weight="bold">Stomach</text>
<text transform="translate(244.25 678.20)" font-size="5.4" text-anchor="middle" fill="#0a0a0a" stroke="#0a0a0a" stroke-width="0.08" font-weight="bold">Chromatin</text>
<text transform="translate(274.35 664.80)" font-size="5.4" text-anchor="middle" fill="#0a0a0a" stroke="#0a0a0a" stroke-width="0.08" font-weight="bold">ALL 423</text>
<text transform="translate(274.35 671.50)" font-size="5.4" text-anchor="middle" fill="#0a0a0a" stroke="#0a0a0a" stroke-width="0.08" font-weight="bold">Epigenomic</text>
<text transform="translate(274.35 678.20)" font-size="5.4" text-anchor="middle" fill="#0a0a0a" stroke="#0a0a0a" stroke-width="0.08" font-weight="bold">Features</text>
<rect x="340.80" y="504.30" width="20.70" height="151.80" fill="#3a607c" />
<line x1="351.15" y1="500.70" x2="351.15" y2="506.20" stroke="#303030" stroke-width="0.8" />
<line x1="349.35" y1="500.70" x2="352.95" y2="500.70" stroke="#303030" stroke-width="0.8" />
<line x1="349.35" y1="506.20" x2="352.95" y2="506.20" stroke="#303030" stroke-width="0.8" />
<rect x="370.90" y="499.00" width="20.90" height="157.10" fill="#827d7d" />
<line x1="381.35" y1="497.10" x2="381.35" y2="500.50" stroke="#303030" stroke-width="0.8" />
<line x1="379.55" y1="497.10" x2="383.15" y2="497.10" stroke="#303030" stroke-width="0.8" />
<line x1="379.55" y1="500.50" x2="383.15" y2="500.50" stroke="#303030" stroke-width="0.8" />
<text transform="translate(365.50 484.60) scale(1.01 1)" font-size="8.3" text-anchor="middle" fill="#0a0a0a" stroke="#0a0a0a" stroke-width="0.2" font-weight="bold">HGD</text>
<text transform="translate(351.15 664.80)" font-size="5.4" text-anchor="middle" fill="#0a0a0a" stroke="#0a0a0a" stroke-width="0.08" font-weight="bold">Only</text>
<text transform="translate(351.15 671.50)" font-size="5.4" text-anchor="middle" fill="#0a0a0a" stroke="#0a0a0a" stroke-width="0.08" font-weight="bold">Stomach</text>
<text transform="translate(351.15 678.20)" font-size="5.4" text-anchor="middle" fill="#0a0a0a" stroke="#0a0a0a" stroke-width="0.08" font-weight="bold">Chromatin</text>
<text transform="translate(381.35 664.80)" font-size="5.4" text-anchor="middle" fill="#0a0a0a" stroke="#0a0a0a" stroke-width="0.08" font-weight="bold">ALL 423</text>
<text transform="translate(381.35 671.50)" font-size="5.4" text-anchor="middle" fill="#0a0a0a" stroke="#0a0a0a" stroke-width="0.08" font-weight="bold">Epigenomic</text>
<text transform="translate(381.35 678.20)" font-size="5.4" text-anchor="middle" fill="#0a0a0a" stroke="#0a0a0a" stroke-width="0.08" font-weight="bold">Features</text>
<rect x="447.80" y="500.70" width="20.70" height="155.40" fill="#3a607c" />
<line x1="458.15" y1="498.80" x2="458.15" y2="502.60" stroke="#303030" stroke-width="0.8" />
<line x1="456.35" y1="498.80" x2="459.95" y2="498.80" stroke="#303030" stroke-width="0.8" />
<line x1="456.35" y1="502.60" x2="459.95" y2="502.60" stroke="#303030" stroke-width="0.8" />
<rect x="478.10" y="495.20" width="20.70" height="160.90" fill="#827d7d" />
<line x1="488.45" y1="493.00" x2="488.45" y2="497.10" stroke="#303030" stroke-width="0.8" />
<line x1="486.65" y1="493.00" x2="490.25" y2="493.00" stroke="#303030" stroke-width="0.8" />
<line x1="486.65" y1="497.10" x2="490.25" y2="497.10" stroke="#303030" stroke-width="0.8" />
<text transform="translate(472.30 484.60) scale(0.945 1)" font-size="8.3" text-anchor="middle" fill="#0a0a0a" stroke="#0a0a0a" stroke-width="0.2" font-weight="bold">EAC</text>
<text transform="translate(458.15 664.80)" font-size="5.4" text-anchor="middle" fill="#0a0a0a" stroke="#0a0a0a" stroke-width="0.08" font-weight="bold">Only</text>
<text transform="translate(458.15 671.50)" font-size="5.4" text-anchor="middle" fill="#0a0a0a" stroke="#0a0a0a" stroke-width="0.08" font-weight="bold">Stomach</text>
<text transform="translate(458.15 678.20)" font-size="5.4" text-anchor="middle" fill="#0a0a0a" stroke="#0a0a0a" stroke-width="0.08" font-weight="bold">Chromatin</text>
<text transform="translate(488.45 664.80)" font-size="5.4" text-anchor="middle" fill="#0a0a0a" stroke="#0a0a0a" stroke-width="0.08" font-weight="bold">ALL 423</text>
<text transform="translate(488.45 671.50)" font-size="5.4" text-anchor="middle" fill="#0a0a0a" stroke="#0a0a0a" stroke-width="0.08" font-weight="bold">Epigenomic</text>
<text transform="translate(488.45 678.20)" font-size="5.4" text-anchor="middle" fill="#0a0a0a" stroke="#0a0a0a" stroke-width="0.08" font-weight="bold">Features</text>
<rect x="98.50" y="465.50" width="428.00" height="190.60" fill="none" stroke="#666" stroke-width="1"/>
<text transform="translate(83.40 658.40)" font-size="8.0" text-anchor="middle" fill="#0a0a0a" stroke="#0a0a0a" stroke-width="0.25" font-weight="bold">0</text>
<text transform="translate(83.40 620.28)" font-size="8.0" text-anchor="middle" fill="#0a0a0a" stroke="#0a0a0a" stroke-width="0.25" font-weight="bold">20</text>
<text transform="translate(83.40 582.16)" font-size="8.0" text-anchor="middle" fill="#0a0a0a" stroke="#0a0a0a" stroke-width="0.25" font-weight="bold">40</text>
<text transform="translate(83.40 544.04)" font-size="8.0" text-anchor="middle" fill="#0a0a0a" stroke="#0a0a0a" stroke-width="0.25" font-weight="bold">60</text>
<text transform="translate(83.40 505.92)" font-size="8.0" text-anchor="middle" fill="#0a0a0a" stroke="#0a0a0a" stroke-width="0.25" font-weight="bold">80</text>
<text transform="translate(83.40 467.80)" font-size="8.0" text-anchor="middle" fill="#0a0a0a" stroke="#0a0a0a" stroke-width="0.25" font-weight="bold">100</text>
<text transform="translate(59.60 565.60) rotate(-90)" font-size="8.8" text-anchor="middle" fill="#0a0a0a" stroke="#0a0a0a" stroke-width="0.25" font-weight="bold">Variance explained (%)</text>
<text transform="translate(59.60 456.90)" font-size="12.0" text-anchor="start" fill="#000" stroke="#000" stroke-width="0.25" font-weight="bold">b</text>
</svg>
</body></html>
